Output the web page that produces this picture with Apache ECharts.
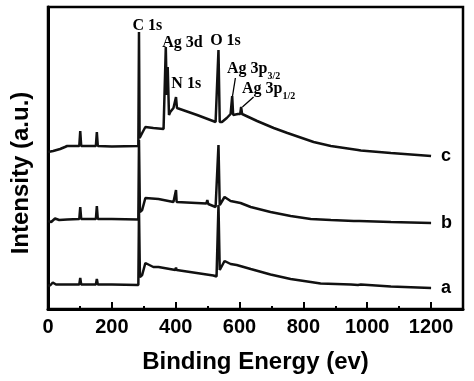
<!DOCTYPE html>
<html>
<head>
<meta charset="utf-8">
<script src="https://cdn.jsdelivr.net/npm/echarts@6/dist/echarts.min.js"></script>
<style>html,body{margin:0;padding:0;background:#fff;}#chart{width:474px;height:381px;}</style>
</head>
<body>
<div id="chart"></div>
<script>
// Binding energy (eV) and intensity (a.u.) for each spectrum
const cEnergy = [0,16,38,53,60,98,101,104,150,153,156,200,283,285,287,295,305,330,362,366,369,372,375,379,383,393,399,401,404,408,467,525,531,534,538,545,560,572,575,577,580,595,602,605,608,613,655,707,750,832,886,971,975,980,1074,1200];
const cIntensity = [157,158,160,162,163,163,178,163,163,177,163,162.5,163,277,171,176,182,181,180,181,262,214,242,194,197,201,201,212,201,199,194,187,187,259,187,187,191,195,195,213,194,195,195,202,195,194,188,181,176,167,163,159,160.5,158.5,156,153];

const bEnergy = [0,10,22,35,60,98,101,104,150,153,156,200,283,285,288,295,305,311,346,393,399,401,403,496,499,502,525,531,534,538,553,572,603,635,697,760,823,886,958,975,980,1074,1200];
const bIntensity = [88,87,90.5,89,89.5,90,102,90,90,103,90,90,89.5,169,97,99,111,112,110,107,107,119,107,105.5,109,105,102,101.5,164,104,112,108,106,102,97,93,90,89,88,88,88.5,87,86];

const aEnergy = [0,8,15,25,60,98,101,104,150,153,156,200,283,285,288,295,305,311,330,346,399,401,403,518,528,531,534,538,553,572,591,635,697,760,823,854,949,971,975,980,1074,1200];
const aIntensity = [23,24,26.5,24.5,24.5,24.5,31,24.5,24.5,30,24.5,24.5,24,99,32,34,46,46,42,42,39,41.5,39,33.5,32.5,32,104,39,48,45,44,40,34.5,30,27,25.5,24.5,24,25.5,24.5,22.5,21];

const seriesNames = ['a','b','c'];
const majorTicks = [0,200,400,600,800,1000,1200];
const minorTicks = [100,300,500,700,900,1100];

// peak annotations: [energy, intensity, text]
const peakLabels = [
  [311, 283, 'C 1s'],
  [421, 266, 'Ag 3d'],
  [556, 268, 'O 1s'],
  [433, 225, 'N 1s'],
  [644, 240, '{m|Ag 3p}{s|3/2}'],
  [691, 220, '{m|Ag 3p}{s|1/2}']
];
const leaderLines = [
  [[587, 231], [578, 213]],
  [[644, 212], [609, 202]]
];

const zip = (e, v) => e.map((x, i) => [x, v[i]]);
const INK = '#111';

function lineSeries(name, e, v, extra) {
  return Object.assign({
    type: 'line', name: name, data: zip(e, v), showSymbol: false, symbol: 'none',
    xAxisIndex: 0, yAxisIndex: 0,
    lineStyle: { color: INK, width: 2.5 },
    endLabel: { show: true, formatter: name, distance: 10, color: '#000',
      fontFamily: 'Liberation Sans', fontWeight: 'bold', fontSize: 18 },
    animation: false, z: 3
  }, extra || {});
}

const chart = echarts.init(document.getElementById('chart'), null, { renderer: 'canvas' });
chart.setOption({
  animation: false,
  backgroundColor: '#fff',
  grid: { left: 48, right: 11, top: 7, bottom: 72, show: true, borderColor: '#000', borderWidth: 2.5 },
  xAxis: [{
    type: 'value', min: 0, max: 1300, interval: 100,
    name: 'Binding Energy (ev)', nameLocation: 'middle', nameGap: 41,
    nameTextStyle: { fontFamily: 'Liberation Sans', fontWeight: 'bold', fontSize: 24, color: '#000' },
    axisLine: { show: true, lineStyle: { color: '#000', width: 3 } },
    axisTick: { show: true, inside: true, length: 7, lineStyle: { color: '#000', width: 2 }, customValues: majorTicks },
    axisLabel: { show: true, margin: 8, color: '#000', fontFamily: 'Liberation Sans', fontWeight: 'bold', fontSize: 20,
      customValues: majorTicks, formatter: v => String(v) },
    splitLine: { show: false }
  }, {
    type: 'value', min: 0, max: 1300, interval: 100, position: 'bottom', gridIndex: 0,
    axisLine: { show: false },
    axisTick: { show: true, inside: true, length: 3, lineStyle: { color: '#000', width: 2 }, customValues: minorTicks },
    axisLabel: { show: false },
    splitLine: { show: false }
  }],
  yAxis: {
    type: 'value', min: 0, max: 302,
    axisLine: { show: true, lineStyle: { color: '#000', width: 3 } },
    axisTick: { show: false }, axisLabel: { show: false }, splitLine: { show: false }
  },
  graphic: [{
    type: 'text', x: 21, y: 173, rotation: Math.PI / 2,
    style: { text: 'Intensity (a.u.)', fill: '#000', font: 'bold 24px "Liberation Sans"', align: 'center', verticalAlign: 'middle' }
  }],
  series: [
    lineSeries(seriesNames[0], aEnergy, aIntensity),
    lineSeries(seriesNames[1], bEnergy, bIntensity),
    lineSeries(seriesNames[2], cEnergy, cIntensity, {
      markPoint: {
        symbol: 'circle', symbolSize: 0, silent: true,
        label: {
          show: true, position: 'inside', color: '#000',
          fontFamily: 'Liberation Serif', fontWeight: 'bold', fontSize: 16,
          rich: {
            m: { fontFamily: 'Liberation Serif', fontWeight: 'bold', fontSize: 16, color: '#000' },
            s: { fontFamily: 'Liberation Serif', fontWeight: 'bold', fontSize: 10, color: '#000', padding: [14, 0, 0, 0] }
          }
        },
        data: peakLabels.map(p => ({ coord: [p[0], p[1]], label: { formatter: p[2] } }))
      },
      markLine: {
        symbol: 'none', silent: true, animation: false,
        lineStyle: { color: '#000', width: 1.3, type: 'solid' },
        label: { show: false },
        data: leaderLines.map(l => [{ coord: l[0] }, { coord: l[1] }])
      }
    })
  ]
});
</script>
</body>
</html>
